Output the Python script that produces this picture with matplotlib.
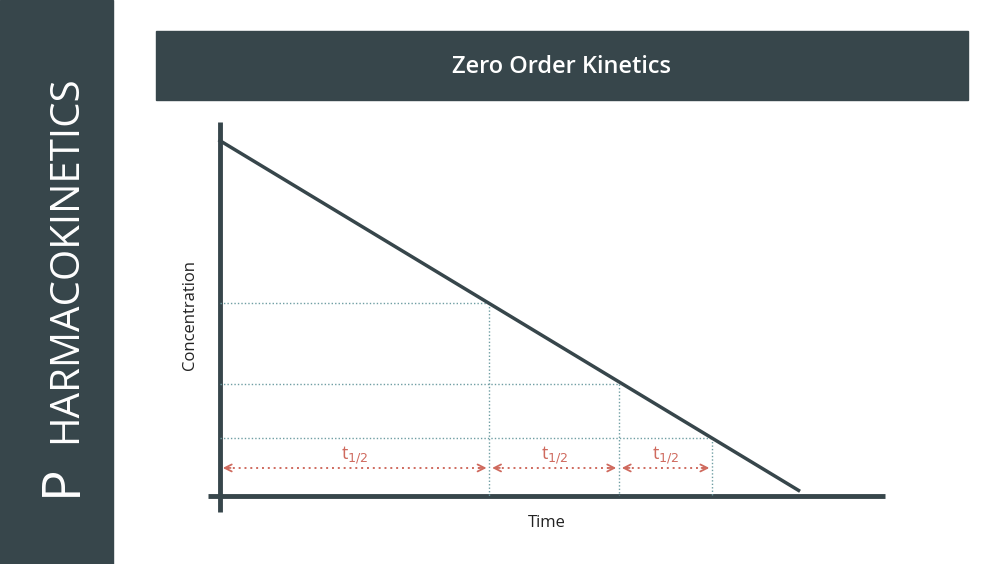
import matplotlib.pyplot as plt
from matplotlib.patches import Rectangle

plt.rcParams['font.family'] = ['Open Sans', 'DejaVu Sans']

# data (time, concentration)
line_t = [0.0, 8.7]
line_c = [9.5, 0.15]
half_t = [4.05, 6.0, 7.4]
half_c = [5.15, 3.0, 1.55]
arrow_c = 0.75
label = 't$_{1/2}$'

DARK = '#37464b'
GUIDE = '#6f9ea3'
RED = '#cf6a5e'

fig = plt.figure(figsize=(10, 5.64), dpi=100)
W, H = 1000, 564

# sidebar and title bar
fig.patches.append(Rectangle((0, 0), 113 / W, 1, transform=fig.transFigure, color=DARK))
fig.patches.append(Rectangle((156 / W, 1 - 100 / H), 812 / W, 69 / H, transform=fig.transFigure, color=DARK))
fig.text(562 / W, 1 - 67 / H, 'Zero Order Kinetics', color='white', fontsize=17,
         ha='center', va='center', fontweight='semibold')
fig.text(62 / W, 1 - 496 / H, 'P', color='white', fontsize=38, rotation=90, ha='center', va='bottom')
fig.text(66 / W, 1 - 443 / H, 'HARMACOKINETICS', color='white', fontsize=29, rotation=90,
         ha='center', va='bottom')

ax = fig.add_axes([220 / W, 1 - 496 / H, 665 / W, 374 / H])
ax.set_xlim(0, 10)
ax.set_ylim(0, 10)
ax.axis('off')

# axes lines
ax.plot([-0.18, 10], [0, 0], color=DARK, lw=3.5, clip_on=False, solid_capstyle='butt')
ax.plot([0, 0], [-0.43, 10], color=DARK, lw=3.5, clip_on=False, solid_capstyle='butt')

# guide lines
for t, c in zip(half_t, half_c):
    ax.plot([0, t], [c, c], color=GUIDE, lw=1, ls=(0, (1, 1.5)))
    ax.plot([t, t], [c, 0], color=GUIDE, lw=1, ls=(0, (1, 1.5)))

# main line
ax.plot(line_t, line_c, color=DARK, lw=2.5, clip_on=False)

# half-life arrows
starts = [0.0] + half_t[:-1]
for a, b in zip(starts, half_t):
    ax.annotate('', xy=(a + 0.03, arrow_c), xytext=(b - 0.03, arrow_c),
                arrowprops=dict(arrowstyle='<|-|>,head_length=0.0', color=RED, lw=0))
    ax.plot([a + 0.1, b - 0.1], [arrow_c, arrow_c], color=RED, lw=1.4, ls=(0, (1, 2)))
    ax.annotate('', xy=(a, arrow_c), xytext=(a + 0.2, arrow_c),
                arrowprops=dict(arrowstyle='->,head_length=0.5,head_width=0.25', color=RED, lw=1.3))
    ax.annotate('', xy=(b, arrow_c), xytext=(b - 0.2, arrow_c),
                arrowprops=dict(arrowstyle='->,head_length=0.5,head_width=0.25', color=RED, lw=1.3))
    ax.text((a + b) / 2, 1.1, label, color=RED, fontsize=13, ha='center', va='center')

fig.text(547 / W, 1 - 523 / H, 'Time', color='#222222', fontsize=12, ha='center', va='center')
fig.text(190 / W, 1 - 315 / H, 'Concentration', color='#222222', fontsize=12, ha='center',
         va='center', rotation=90)

fig.savefig('out.png', dpi=100)
